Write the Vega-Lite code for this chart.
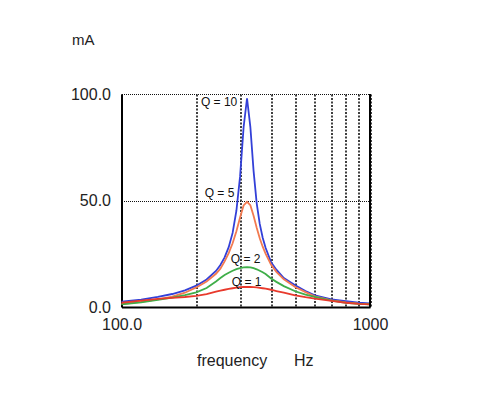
{
  "$schema": "https://vega.github.io/schema/vega-lite/v6.json",
  "width": 248.5,
  "height": 213,
  "autosize": {"type": "none"},
  "padding": {"left": 121.5, "top": 94, "right": 130, "bottom": 95},
  "background": "white",
  "config": {"view": {"stroke": null}, "font": "Liberation Sans"},
  "datasets": {
    "curves": [
      {"f": 100, "q": "Q = 10", "mA": 2.5}, {"f": 100, "q": "Q = 5", "mA": 1.3}, {"f": 100, "q": "Q = 2", "mA": 1.3}, {"f": 100, "q": "Q = 1", "mA": 2.0},
      {"f": 120, "q": "Q = 10", "mA": 3.5}, {"f": 120, "q": "Q = 5", "mA": 2.4}, {"f": 120, "q": "Q = 2", "mA": 2.2}, {"f": 120, "q": "Q = 1", "mA": 3.0},
      {"f": 140, "q": "Q = 10", "mA": 4.8}, {"f": 140, "q": "Q = 5", "mA": 3.6}, {"f": 140, "q": "Q = 2", "mA": 3.3}, {"f": 140, "q": "Q = 1", "mA": 3.8},
      {"f": 160, "q": "Q = 10", "mA": 6.1}, {"f": 160, "q": "Q = 5", "mA": 4.9}, {"f": 160, "q": "Q = 2", "mA": 4.4}, {"f": 160, "q": "Q = 1", "mA": 4.3},
      {"f": 180, "q": "Q = 10", "mA": 7.8}, {"f": 180, "q": "Q = 5", "mA": 6.7}, {"f": 180, "q": "Q = 2", "mA": 5.6}, {"f": 180, "q": "Q = 1", "mA": 4.7},
      {"f": 200, "q": "Q = 10", "mA": 10.0}, {"f": 200, "q": "Q = 5", "mA": 9.2}, {"f": 200, "q": "Q = 2", "mA": 6.9}, {"f": 200, "q": "Q = 1", "mA": 5.2},
      {"f": 220, "q": "Q = 10", "mA": 12.9}, {"f": 220, "q": "Q = 5", "mA": 12.0}, {"f": 220, "q": "Q = 2", "mA": 8.9}, {"f": 220, "q": "Q = 1", "mA": 6.0},
      {"f": 240, "q": "Q = 10", "mA": 16.9}, {"f": 240, "q": "Q = 5", "mA": 15.6}, {"f": 240, "q": "Q = 2", "mA": 12.0}, {"f": 240, "q": "Q = 1", "mA": 7.2},
      {"f": 250, "q": "Q = 10", "mA": 19.7}, {"f": 250, "q": "Q = 5", "mA": 18.0}, {"f": 250, "q": "Q = 2", "mA": 13.6}, {"f": 250, "q": "Q = 1", "mA": 7.7},
      {"f": 260, "q": "Q = 10", "mA": 23.3}, {"f": 260, "q": "Q = 5", "mA": 21.4}, {"f": 260, "q": "Q = 2", "mA": 15.0}, {"f": 260, "q": "Q = 1", "mA": 8.1},
      {"f": 270, "q": "Q = 10", "mA": 28.1}, {"f": 270, "q": "Q = 5", "mA": 25.3}, {"f": 270, "q": "Q = 2", "mA": 16.1}, {"f": 270, "q": "Q = 1", "mA": 8.5},
      {"f": 280, "q": "Q = 10", "mA": 34.8}, {"f": 280, "q": "Q = 5", "mA": 29.9}, {"f": 280, "q": "Q = 2", "mA": 17.0}, {"f": 280, "q": "Q = 1", "mA": 8.8},
      {"f": 290, "q": "Q = 10", "mA": 45.2}, {"f": 290, "q": "Q = 5", "mA": 35.6}, {"f": 290, "q": "Q = 2", "mA": 17.8}, {"f": 290, "q": "Q = 1", "mA": 9.1},
      {"f": 300, "q": "Q = 10", "mA": 61.2}, {"f": 300, "q": "Q = 5", "mA": 42.0}, {"f": 300, "q": "Q = 2", "mA": 18.3}, {"f": 300, "q": "Q = 1", "mA": 9.3},
      {"f": 310, "q": "Q = 10", "mA": 84.4}, {"f": 310, "q": "Q = 5", "mA": 47.7}, {"f": 310, "q": "Q = 2", "mA": 18.6}, {"f": 310, "q": "Q = 1", "mA": 9.4},
      {"f": 320, "q": "Q = 10", "mA": 98.0}, {"f": 320, "q": "Q = 5", "mA": 49.4}, {"f": 320, "q": "Q = 2", "mA": 18.7}, {"f": 320, "q": "Q = 1", "mA": 9.4},
      {"f": 330, "q": "Q = 10", "mA": 84.6}, {"f": 330, "q": "Q = 5", "mA": 47.8}, {"f": 330, "q": "Q = 2", "mA": 18.6}, {"f": 330, "q": "Q = 1", "mA": 9.4},
      {"f": 340, "q": "Q = 10", "mA": 63.9}, {"f": 340, "q": "Q = 5", "mA": 42.8}, {"f": 340, "q": "Q = 2", "mA": 18.2}, {"f": 340, "q": "Q = 1", "mA": 9.3},
      {"f": 350, "q": "Q = 10", "mA": 48.7}, {"f": 350, "q": "Q = 5", "mA": 37.2}, {"f": 350, "q": "Q = 2", "mA": 17.7}, {"f": 350, "q": "Q = 1", "mA": 9.2},
      {"f": 360, "q": "Q = 10", "mA": 39.0}, {"f": 360, "q": "Q = 5", "mA": 32.3}, {"f": 360, "q": "Q = 2", "mA": 17.0}, {"f": 360, "q": "Q = 1", "mA": 9.0},
      {"f": 370, "q": "Q = 10", "mA": 32.5}, {"f": 370, "q": "Q = 5", "mA": 28.3}, {"f": 370, "q": "Q = 2", "mA": 16.3}, {"f": 370, "q": "Q = 1", "mA": 8.8},
      {"f": 380, "q": "Q = 10", "mA": 27.8}, {"f": 380, "q": "Q = 5", "mA": 25.1}, {"f": 380, "q": "Q = 2", "mA": 15.5}, {"f": 380, "q": "Q = 1", "mA": 8.6},
      {"f": 400, "q": "Q = 10", "mA": 21.0}, {"f": 400, "q": "Q = 5", "mA": 19.8}, {"f": 400, "q": "Q = 2", "mA": 13.4}, {"f": 400, "q": "Q = 1", "mA": 8.1},
      {"f": 420, "q": "Q = 10", "mA": 17.5}, {"f": 420, "q": "Q = 5", "mA": 16.5}, {"f": 420, "q": "Q = 2", "mA": 11.8}, {"f": 420, "q": "Q = 1", "mA": 7.5},
      {"f": 450, "q": "Q = 10", "mA": 13.6}, {"f": 450, "q": "Q = 5", "mA": 13.0}, {"f": 450, "q": "Q = 2", "mA": 9.8}, {"f": 450, "q": "Q = 1", "mA": 6.7},
      {"f": 500, "q": "Q = 10", "mA": 10.2}, {"f": 500, "q": "Q = 5", "mA": 9.4}, {"f": 500, "q": "Q = 2", "mA": 7.4}, {"f": 500, "q": "Q = 1", "mA": 5.5},
      {"f": 550, "q": "Q = 10", "mA": 7.5}, {"f": 550, "q": "Q = 5", "mA": 7.0}, {"f": 550, "q": "Q = 2", "mA": 5.8}, {"f": 550, "q": "Q = 1", "mA": 4.6},
      {"f": 600, "q": "Q = 10", "mA": 5.5}, {"f": 600, "q": "Q = 5", "mA": 5.0}, {"f": 600, "q": "Q = 2", "mA": 4.7}, {"f": 600, "q": "Q = 1", "mA": 3.9},
      {"f": 700, "q": "Q = 10", "mA": 3.6}, {"f": 700, "q": "Q = 5", "mA": 3.1}, {"f": 700, "q": "Q = 2", "mA": 3.0}, {"f": 700, "q": "Q = 1", "mA": 2.9},
      {"f": 800, "q": "Q = 10", "mA": 2.7}, {"f": 800, "q": "Q = 5", "mA": 2.2}, {"f": 800, "q": "Q = 2", "mA": 2.0}, {"f": 800, "q": "Q = 1", "mA": 2.0},
      {"f": 900, "q": "Q = 10", "mA": 2.0}, {"f": 900, "q": "Q = 5", "mA": 1.6}, {"f": 900, "q": "Q = 2", "mA": 1.5}, {"f": 900, "q": "Q = 1", "mA": 1.5},
      {"f": 1000, "q": "Q = 10", "mA": 1.7}, {"f": 1000, "q": "Q = 5", "mA": 1.3}, {"f": 1000, "q": "Q = 2", "mA": 1.3}, {"f": 1000, "q": "Q = 1", "mA": 1.2}
    ],
    "labels": [
      {"f": 247, "mA": 96.4, "label": "Q = 10"},
      {"f": 248, "mA": 53.7, "label": "Q = 5"},
      {"f": 316, "mA": 22.4, "label": "Q = 2"},
      {"f": 319, "mA": 11.9, "label": "Q = 1"}
    ],
    "frame": [{"f": 1000}]
  },
  "layer": [
    {
      "data": {"name": "curves"},
      "mark": {"type": "line", "strokeWidth": 1.8},
      "encoding": {
        "x": {
          "field": "f",
          "type": "quantitative",
          "scale": {"type": "log", "domain": [100, 1000]},
          "axis": {
            "values": [100, 200, 300, 400, 500, 600, 700, 800, 900, 1000],
            "labelExpr": "datum.value == 100 ? '100.0' : (datum.value == 1000 ? '1000' : '')",
            "grid": true,
            "gridDash": [2, 1.5],
            "gridColor": "#111111",
            "gridWidth": 1.6,
            "gridOpacity": 1,
            "ticks": false,
            "tickSize": 0,
            "domainColor": "black",
            "domainWidth": 2,
            "labelFontSize": 16,
            "labelColor": "#222222",
            "labelPadding": 9,
            "labelFlush": false,
            "labelOverlap": false,
            "title": "frequency\u00a0\u00a0\u00a0\u00a0\u00a0\u00a0Hz",
            "titleFontSize": 16,
            "titleFontWeight": "normal",
            "titleColor": "#222222",
            "titleAlign": "left",
            "titleBaseline": "alphabetic",
            "titleX": 75,
            "titleY": 58
          }
        },
        "y": {
          "field": "mA",
          "type": "quantitative",
          "scale": {"domain": [0, 100]},
          "axis": {
            "values": [0, 50, 100],
            "format": ".1f",
            "grid": true,
            "gridDash": [1, 1],
            "gridColor": "#111111",
            "gridWidth": 1.2,
            "gridOpacity": 1,
            "ticks": false,
            "tickSize": 0,
            "domainColor": "black",
            "domainWidth": 2,
            "labelFontSize": 16,
            "labelColor": "#222222",
            "labelPadding": 11,
            "title": "mA",
            "titleAngle": 0,
            "titleFontSize": 15,
            "titleFontWeight": "normal",
            "titleColor": "#222222",
            "titleAlign": "left",
            "titleBaseline": "alphabetic",
            "titleX": -50,
            "titleY": -50
          }
        },
        "color": {
          "field": "q",
          "type": "nominal",
          "scale": {
            "domain": ["Q = 10", "Q = 5", "Q = 2", "Q = 1"],
            "range": ["#3340d8", "#f27a50", "#3fae49", "#e8392c"]
          },
          "legend": null
        }
      }
    },
    {
      "data": {"name": "labels"},
      "mark": {"type": "text", "fontSize": 12, "color": "#111111"},
      "encoding": {
        "x": {"field": "f", "type": "quantitative"},
        "y": {"field": "mA", "type": "quantitative"},
        "text": {"field": "label"}
      }
    },
    {
      "data": {"name": "frame"},
      "mark": {"type": "rule", "color": "black", "strokeWidth": 2},
      "encoding": {
        "x": {"field": "f", "type": "quantitative"}
      }
    }
  ]
}
